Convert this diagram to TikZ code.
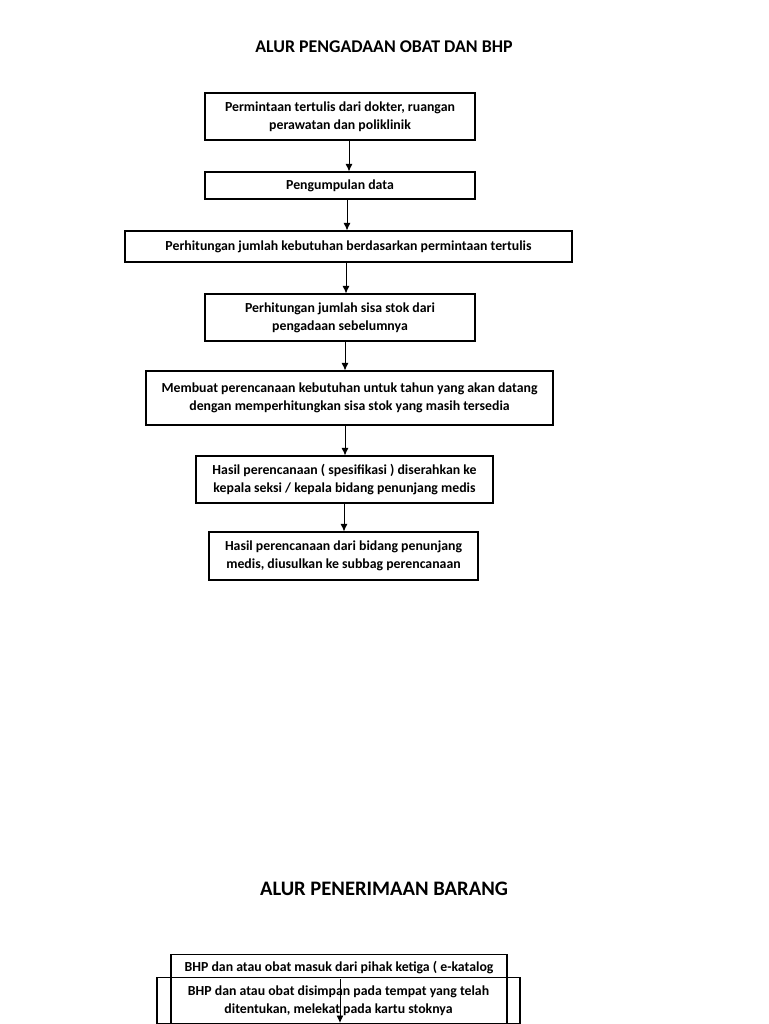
\documentclass[tikz,border=0pt]{standalone}
\usepackage{fontspec}
\setmainfont{Carlito}
\usepackage{tikz}
\usetikzlibrary{arrows.meta}

\begin{document}
\begin{tikzpicture}[x=1pt,y=-1pt,
	box/.style={rectangle,draw,line width=1.1pt,align=center,inner sep=0pt,
		font=\fontsize{13.8}{18}\selectfont\bfseries},
	flow/.style={-{Latex[length=7.5pt,width=7pt]},line width=0.9pt}]
		\useasboundingbox (0,0) rectangle (768,1024);
		\clip (0,0) rectangle (768,1024);
%		\draw[help lines,step=50] (0,0) grid (768,1024);
		\path (349,0) coordinate (a1);
		\path (347,0) coordinate (a2);
		\path (346,0) coordinate (a3);
		\path (345,0) coordinate (a4);
		\path (345,0) coordinate (a5);
		\path (344,0) coordinate (a6);
		\path (340,979) coordinate (a8top);
		\path (340,1023) coordinate (a8bot);

		\path (384,47) node(pengadaan) [font=\fontsize{17.9}{20}\selectfont\bfseries] {ALUR PENGADAAN OBAT DAN BHP};
		\path (340,116.5) node(b1) [box,minimum width=270pt,minimum height=47pt] {Permintaan tertulis dari dokter, ruangan\\perawatan dan poliklinik};
		\path (340,185.5) node(b2) [box,minimum width=270pt,minimum height=27pt] {Pengumpulan data};
		\path (348.5,246.5) node(b3) [box,minimum width=447pt,minimum height=31pt] {Perhitungan jumlah kebutuhan berdasarkan permintaan tertulis};
		\path (340,317.5) node(b4) [box,minimum width=270pt,minimum height=47pt] {Perhitungan jumlah sisa stok dari\\pengadaan sebelumnya};
		\path (349.5,398) node(b5) [box,minimum width=407pt,minimum height=54pt] {Membuat perencanaan kebutuhan untuk tahun yang akan datang\\dengan memperhitungkan sisa stok yang masih tersedia};
		\path (344.5,479.5) node(b6) [box,minimum width=297pt,minimum height=47pt] {Hasil perencanaan ( spesifikasi ) diserahkan ke\\kepala seksi / kepala bidang penunjang medis};
		\path (343.5,556) node(b7) [box,minimum width=269pt,minimum height=48pt] {Hasil perencanaan dari bidang penunjang\\medis, diusulkan ke subbag perencanaan};

		\draw[flow] (b1.south -| a1) -- (b2.north -| a1);
		\draw[flow] (b2.south -| a2) -- (b3.north -| a2);
		\draw[flow] (b3.south -| a3) -- (b4.north -| a3);
		\draw[flow] (b4.south -| a4) -- (b5.north -| a4);
		\draw[flow] (b5.south -| a5) -- (b6.north -| a5);
		\draw[flow] (b6.south -| a6) -- (b7.north -| a6);

		\path (384,889) node(penerimaan) [font=\fontsize{20.6}{24}\selectfont\bfseries] {ALUR PENERIMAAN BARANG};
		\path (339,954) node(b8) [box,anchor=north,minimum width=336pt,text height=16.5pt,text depth=52.5pt] {BHP dan atau obat masuk dari pihak ketiga ( e-katalog};
		\path (338.5,977) node(b9) [box,anchor=north,minimum width=363pt,minimum height=46pt] {BHP dan atau obat disimpan pada tempat yang telah\\ditentukan, melekat pada kartu stoknya};
		\draw[flow] (a8top) -- (a8bot);
	\end{tikzpicture}
\end{document}
